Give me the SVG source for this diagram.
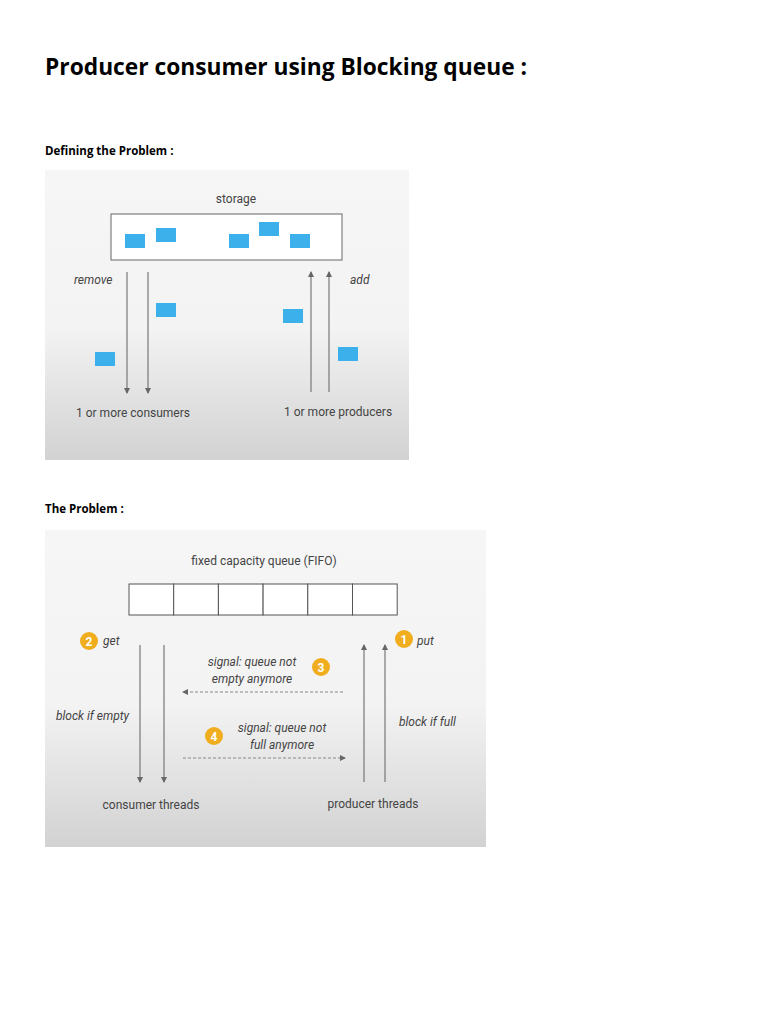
<svg xmlns="http://www.w3.org/2000/svg" width="768" height="1024" viewBox="0 0 768 1024">
<defs>
<linearGradient id="bg" x1="0" y1="0" x2="0" y2="1">
<stop offset="0" stop-color="#f6f6f6"/><stop offset="0.55" stop-color="#f3f3f3"/><stop offset="1" stop-color="#d2d2d2"/>
</linearGradient>
<marker id="ah" markerWidth="6" markerHeight="6" refX="5" refY="3" orient="auto" markerUnits="userSpaceOnUse"><path d="M0,0 L6,3 L0,6 z" fill="#666"/></marker>
<style>
.h{font-family:"Open Sans","Liberation Sans",sans-serif;font-weight:bold;fill:#000}
.t{font-family:Roboto,"Liberation Sans",sans-serif;fill:#444;font-size:12px}
.i{font-style:italic}
.sq{fill:#3bb0ea}
.ln{stroke:#777;stroke-width:1.2;fill:none;marker-end:url(#ah)}
.ds{stroke:#888;stroke-width:1.2;fill:none;stroke-dasharray:3,2;marker-end:url(#ah)}
.c{fill:#f0ad1e}
.cn{font-family:Roboto,"Liberation Sans",sans-serif;font-size:12px;fill:#fff;font-weight:bold;text-anchor:middle}
</style>
</defs>
<rect width="768" height="1024" fill="#fff"/>
<text class="h" x="45" y="75" font-size="23" textLength="482" lengthAdjust="spacingAndGlyphs">Producer consumer using Blocking queue :</text>
<text class="h" x="45" y="155" font-size="11.5">Defining the Problem :</text>
<text class="h" x="45" y="513" font-size="11.5">The Problem :</text>

<g id="panel1">
<rect x="45" y="170" width="364" height="290" fill="url(#bg)"/>
<text class="t" x="236" y="203" text-anchor="middle" font-size="11">storage</text>
<g id="storage"><rect x="111" y="214" width="231" height="46" fill="#fff" stroke="#666" stroke-width="1"/>
<rect class="sq" x="125" y="234" width="20" height="14"/><rect class="sq" x="156" y="228" width="20" height="14"/>
<rect class="sq" x="229" y="234" width="20" height="14"/><rect class="sq" x="259" y="222" width="20" height="14"/>
<rect class="sq" x="290" y="234" width="20" height="14"/></g>
<rect class="sq" x="156" y="303" width="20" height="14"/><rect class="sq" x="95" y="352" width="20" height="14"/>
<rect class="sq" x="283" y="309" width="20" height="14"/><rect class="sq" x="338" y="347" width="20" height="14"/>
<g id="conn1">
<line class="ln" x1="127" y1="272" x2="127" y2="393"/><line class="ln" x1="148" y1="272" x2="148" y2="393"/>
<line class="ln" x1="311" y1="392" x2="311" y2="272"/><line class="ln" x1="329" y1="392" x2="329" y2="272"/>
</g>
<text class="t i" x="74" y="284" font-size="11">remove</text>
<text class="t i" x="350" y="284" font-size="11">add</text>
<text class="t" x="76" y="417" font-size="11">1 or more consumers</text>
<text class="t" x="284" y="416" font-size="11">1 or more producers</text>
</g>

<g id="panel2">
<rect x="45" y="530" width="441" height="317" fill="url(#bg)"/>
<text class="t" x="264" y="565" text-anchor="middle">fixed capacity queue (FIFO)</text>
<g id="queue" fill="#fff" stroke="#555" stroke-width="1">
<rect x="129" y="584" width="44.7" height="31"/><rect x="173.7" y="584" width="44.7" height="31"/>
<rect x="218.4" y="584" width="44.7" height="31"/><rect x="263.1" y="584" width="44.7" height="31"/>
<rect x="307.8" y="584" width="44.7" height="31"/><rect x="352.5" y="584" width="44.7" height="31"/>
</g>
<g id="conn2">
<line class="ln" x1="140" y1="645" x2="140" y2="782"/><line class="ln" x1="164" y1="645" x2="164" y2="782"/>
<line class="ln" x1="364" y1="782" x2="364" y2="645"/><line class="ln" x1="385" y1="782" x2="385" y2="645"/>
<line class="ds" x1="343" y1="692" x2="183" y2="692"/>
<line class="ds" x1="183" y1="758" x2="345" y2="758"/>
</g>
<circle class="c" cx="89" cy="641" r="9"/><text class="cn" x="89" y="645.5">2</text>
<text class="t i" x="103" y="645">get</text>
<circle class="c" cx="404" cy="639" r="9"/><text class="cn" x="404" y="643.5">1</text>
<text class="t i" x="417" y="645">put</text>
<circle class="c" cx="321" cy="667" r="9"/><text class="cn" x="321" y="671.5">3</text>
<text class="t i" x="252" y="666" text-anchor="middle">signal: queue not</text>
<text class="t i" x="252" y="683" text-anchor="middle">empty anymore</text>
<circle class="c" cx="214" cy="736" r="9"/><text class="cn" x="214" y="740.5">4</text>
<text class="t i" x="282" y="732" text-anchor="middle">signal: queue not</text>
<text class="t i" x="282" y="749" text-anchor="middle">full anymore</text>
<text class="t i" x="56" y="720">block if empty</text>
<text class="t i" x="399" y="726">block if full</text>
<text class="t" x="151" y="809" text-anchor="middle">consumer threads</text>
<text class="t" x="373" y="808" text-anchor="middle">producer threads</text>
</g>
</svg>
